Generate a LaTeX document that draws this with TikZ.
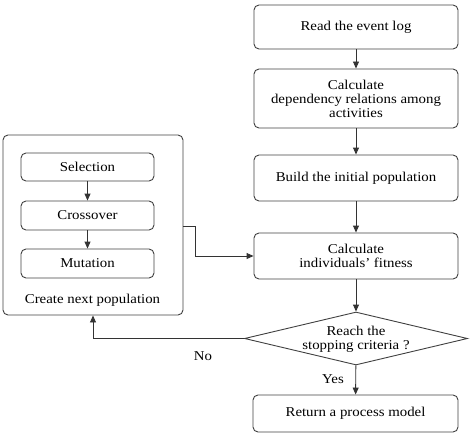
\documentclass[tikz,border=0pt]{standalone}
\usepackage{fontspec}
\setmainfont{Liberation Serif}[FakeStretch=1.1]
\usetikzlibrary{arrows.meta,shapes.geometric}
\begin{document}
\begin{tikzpicture}[x=1pt,y=-1pt,
  font=\fontsize{13.5}{14}\selectfont,
  every node/.style={inner sep=0pt},
  box/.style={draw=black!75, line width=0.9pt, rounded corners=5pt, align=center},
  rbox/.style={box, minimum width=204pt},
  ibox/.style={box, minimum width=133pt},
  lbl/.style={align=center},
  arr/.style={draw=black!80, line width=0.9pt, -{Triangle[length=7pt,width=6pt]}}
]
\useasboundingbox (0,0) rectangle (474,444);
% right column
\node[rbox, minimum height=44pt] (read) at (356,27) {Read the event log};
\node[rbox, minimum height=59pt] (calc) at (356,98.5) {Calculate\\dependency relations among\\activities};
\node[rbox, minimum height=46pt] (build) at (356,178) {Build the initial population};
\node[rbox, minimum height=46pt] (fit) at (356,256) {Calculate\\individuals' fitness};
\node[diamond, draw=black!75, line width=0.9pt, minimum width=223pt, minimum height=53pt] (dec) at (356,338.5) {};
\node[lbl] (dectext) at (356,339) {Reach the\\stopping criteria ?};
\node[rbox, minimum height=37pt, minimum width=205pt] (ret) at (355.5,413.5) {Return a process model};
% left group
\node[box, minimum width=180pt, minimum height=180pt] (outer) at (93,225) {};
\node[ibox, minimum height=28pt] (sel) at (87.5,167) {Selection};
\node[ibox, minimum height=29pt] (cross) at (87.5,215.5) {Crossover};
\node[ibox, minimum height=29pt] (mut) at (87.5,263.5) {Mutation};
\node[lbl] (create) at (92.5,300) {Create next population};
% connectors
\draw[arr] (read) -- (calc);
\draw[arr] (calc) -- (build);
\draw[arr] (build) -- (fit);
\draw[arr] (fit) -- (dec);
\draw[arr] (dec) -- (ret);
\draw[arr] (sel) -- (cross);
\draw[arr] (cross) -- (mut);
\coordinate (j1) at (195,226);
\draw[arr] (outer.east |- j1) -- (j1) |- (fit.west);
\draw[arr] (dec.west) -| (outer.south);
\node[lbl] (no) at (203,356) {No};
\node[lbl] (yes) at (333,379) {Yes};
\end{tikzpicture}
\end{document}
